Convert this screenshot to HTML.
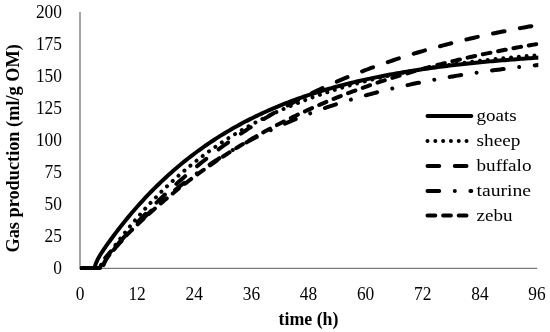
<!DOCTYPE html>
<html><head><meta charset="utf-8"><style>
html,body{margin:0;padding:0;background:#fff;}
body{width:550px;height:332px;overflow:hidden;}
svg{display:block;}
.t{font-family:"Liberation Serif",serif;font-size:17.4px;fill:#000;}
.l{font-family:"Liberation Serif",serif;font-size:17.2px;fill:#000;}
.b{font-family:"Liberation Serif",serif;font-size:18.5px;font-weight:bold;fill:#000;}
</style></head><body>
<svg width="550" height="332" viewBox="0 0 550 332">
<line x1="80" y1="12" x2="80" y2="269" stroke="#868686" stroke-width="1.5"/>
<line x1="79.25" y1="268.4" x2="537.2" y2="268.4" stroke="#7a7a7a" stroke-width="1.3"/>
<text transform="translate(62,273.8) scale(1,1.1)" text-anchor="end" class="t">0</text>
<text transform="translate(62,241.8) scale(1,1.1)" text-anchor="end" class="t">25</text>
<text transform="translate(62,209.8) scale(1,1.1)" text-anchor="end" class="t">50</text>
<text transform="translate(62,177.8) scale(1,1.1)" text-anchor="end" class="t">75</text>
<text transform="translate(62,145.8) scale(1,1.1)" text-anchor="end" class="t">100</text>
<text transform="translate(62,113.8) scale(1,1.1)" text-anchor="end" class="t">125</text>
<text transform="translate(62,81.8) scale(1,1.1)" text-anchor="end" class="t">150</text>
<text transform="translate(62,49.8) scale(1,1.1)" text-anchor="end" class="t">175</text>
<text transform="translate(62,17.8) scale(1,1.1)" text-anchor="end" class="t">200</text>
<text transform="translate(80.0,299.8) scale(1,1.1)" text-anchor="middle" class="t">0</text>
<text transform="translate(137.1,299.8) scale(1,1.1)" text-anchor="middle" class="t">12</text>
<text transform="translate(194.2,299.8) scale(1,1.1)" text-anchor="middle" class="t">24</text>
<text transform="translate(251.4,299.8) scale(1,1.1)" text-anchor="middle" class="t">36</text>
<text transform="translate(308.5,299.8) scale(1,1.1)" text-anchor="middle" class="t">48</text>
<text transform="translate(365.6,299.8) scale(1,1.1)" text-anchor="middle" class="t">60</text>
<text transform="translate(422.8,299.8) scale(1,1.1)" text-anchor="middle" class="t">72</text>
<text transform="translate(479.9,299.8) scale(1,1.1)" text-anchor="middle" class="t">84</text>
<text transform="translate(537.0,299.8) scale(1,1.1)" text-anchor="middle" class="t">96</text>
<defs><clipPath id="pa"><rect x="80" y="0" width="458.3" height="332"/></clipPath></defs><g clip-path="url(#pa)">
<path d="M80.00,268.00 L99.99,268.00 L100.47,266.57 L100.95,265.32 L101.42,264.20 L101.90,263.19 L102.37,262.28 L102.85,261.44 L103.33,260.66 L103.80,259.93 L104.28,259.23 L104.75,258.58 L105.23,257.94 L105.71,257.33 L106.18,256.74 L106.66,256.17 L107.13,255.60 L107.61,255.05 L108.09,254.50 L108.56,253.96 L109.04,253.43 L109.51,252.90 L109.99,252.37 L110.47,251.85 L110.94,251.33 L111.42,250.82 L111.89,250.31 L112.37,249.80 L112.85,249.29 L113.32,248.78 L113.80,248.28 L114.27,247.77 L114.75,247.27 L117.13,244.78 L119.51,242.32 L121.89,239.88 L124.27,237.47 L126.65,235.09 L129.03,232.73 L131.41,230.39 L133.79,228.08 L136.17,225.79 L138.55,223.52 L140.93,221.28 L143.31,219.06 L145.69,216.87 L148.07,214.69 L150.45,212.54 L152.83,210.41 L155.21,208.30 L157.59,206.22 L159.97,204.15 L162.36,202.11 L164.74,200.09 L167.12,198.09 L169.50,196.11 L171.88,194.15 L174.26,192.21 L176.64,190.29 L179.02,188.39 L181.40,186.50 L183.78,184.64 L186.16,182.80 L188.54,180.98 L190.92,179.17 L193.30,177.39 L195.68,175.62 L198.06,173.87 L200.44,172.14 L202.82,170.42 L205.20,168.73 L207.58,167.05 L209.96,165.39 L212.34,163.74 L214.72,162.11 L217.10,160.50 L219.48,158.91 L221.86,157.33 L224.24,155.77 L226.62,154.22 L229.00,152.69 L231.38,151.18 L233.76,149.68 L236.14,148.20 L238.52,146.73 L240.90,145.28 L243.28,143.84 L245.66,142.41 L248.04,141.01 L250.42,139.61 L252.80,138.23 L255.18,136.87 L257.56,135.52 L259.94,134.18 L262.32,132.85 L264.70,131.54 L267.08,130.25 L269.46,128.96 L271.84,127.69 L274.22,126.44 L276.61,125.19 L278.99,123.96 L281.37,122.74 L283.75,121.53 L286.13,120.34 L288.51,119.16 L290.89,117.99 L293.27,116.83 L295.65,115.69 L298.03,114.55 L300.41,113.43 L302.79,112.32 L305.17,111.22 L307.55,110.13 L309.93,109.06 L312.31,107.99 L314.69,106.94 L317.07,105.89 L319.45,104.86 L321.83,103.84 L324.21,102.82 L326.59,101.82 L328.97,100.83 L331.35,99.85 L333.73,98.88 L336.11,97.92 L338.49,96.97 L340.87,96.02 L343.25,95.09 L345.63,94.17 L348.01,93.26 L350.39,92.35 L352.77,91.46 L355.15,90.58 L357.53,89.70 L359.91,88.83 L362.29,87.98 L364.67,87.13 L367.05,86.29 L369.43,85.45 L371.81,84.63 L374.19,83.82 L376.57,83.01 L378.95,82.21 L381.33,81.42 L383.71,80.64 L386.09,79.87 L388.47,79.10 L390.86,78.34 L393.24,77.59 L395.62,76.85 L398.00,76.12 L400.38,75.39 L402.76,74.67 L405.14,73.96 L407.52,73.25 L409.90,72.55 L412.28,71.86 L414.66,71.18 L417.04,70.50 L419.42,69.83 L421.80,69.17 L424.18,68.52 L426.56,67.87 L428.94,67.22 L431.32,66.59 L433.70,65.96 L436.08,65.34 L438.46,64.72 L440.84,64.11 L443.22,63.51 L445.60,62.91 L447.98,62.32 L450.36,61.73 L452.74,61.15 L455.12,60.58 L457.50,60.01 L459.88,59.45 L462.26,58.89 L464.64,58.34 L467.02,57.80 L469.40,57.26 L471.78,56.73 L474.16,56.20 L476.54,55.68 L478.92,55.16 L481.30,54.65 L483.68,54.14 L486.06,53.64 L488.44,53.14 L490.82,52.65 L493.20,52.17 L495.58,51.69 L497.96,51.21 L500.34,50.74 L502.72,50.27 L505.11,49.81 L507.49,49.35 L509.87,48.90 L512.25,48.45 L514.63,48.01 L517.01,47.57 L519.39,47.14 L521.77,46.71 L524.15,46.28 L526.53,45.86 L528.91,45.45 L531.29,45.04 L533.67,44.63 L536.05,44.22 L538.43,43.82 L540.81,43.43 L543.19,43.04 L544.14,42.88" fill="none" stroke="#000" stroke-width="4.0" stroke-linecap="round" stroke-linejoin="round" stroke-dasharray="7.80,7.80" stroke-dashoffset="-0.10"/>
<path d="M80.00,268.00 L102.37,268.00 L102.85,266.52 L103.33,265.22 L103.80,264.05 L104.28,262.99 L104.75,262.03 L105.23,261.14 L105.71,260.31 L106.18,259.53 L106.66,258.79 L107.13,258.08 L107.61,257.40 L108.09,256.75 L108.56,256.11 L109.04,255.49 L109.51,254.88 L109.99,254.28 L110.47,253.69 L110.94,253.10 L111.42,252.53 L111.89,251.95 L112.37,251.39 L112.85,250.82 L113.32,250.27 L113.80,249.71 L114.27,249.16 L114.75,248.61 L115.23,248.06 L115.70,247.51 L116.18,246.97 L116.66,246.43 L117.13,245.89 L119.51,243.21 L121.89,240.57 L124.27,237.97 L126.65,235.41 L129.03,232.88 L131.41,230.38 L133.79,227.92 L136.17,225.49 L138.55,223.10 L140.93,220.73 L143.31,218.40 L145.69,216.10 L148.07,213.82 L150.45,211.58 L152.83,209.37 L155.21,207.19 L157.59,205.04 L159.97,202.92 L162.36,200.82 L164.74,198.76 L167.12,196.72 L169.50,194.71 L171.88,192.72 L174.26,190.77 L176.64,188.84 L179.02,186.93 L181.40,185.05 L183.78,183.20 L186.16,181.37 L188.54,179.56 L190.92,177.78 L193.30,176.02 L195.68,174.29 L198.06,172.58 L200.44,170.89 L202.82,169.23 L205.20,167.58 L207.58,165.96 L209.96,164.36 L212.34,162.79 L214.72,161.23 L217.10,159.70 L219.48,158.18 L221.86,156.69 L224.24,155.21 L226.62,153.76 L229.00,152.32 L231.38,150.91 L233.76,149.51 L236.14,148.13 L238.52,146.77 L240.90,145.43 L243.28,144.11 L245.66,142.80 L248.04,141.51 L250.42,140.24 L252.80,138.99 L255.18,137.75 L257.56,136.53 L259.94,135.33 L262.32,134.14 L264.70,132.97 L267.08,131.81 L269.46,130.67 L271.84,129.55 L274.22,128.44 L276.61,127.34 L278.99,126.26 L281.37,125.19 L283.75,124.14 L286.13,123.10 L288.51,122.08 L290.89,121.07 L293.27,120.07 L295.65,119.09 L298.03,118.12 L300.41,117.16 L302.79,116.22 L305.17,115.29 L307.55,114.37 L309.93,113.46 L312.31,112.56 L314.69,111.68 L317.07,110.81 L319.45,109.95 L321.83,109.10 L324.21,108.27 L326.59,107.44 L328.97,106.63 L331.35,105.83 L333.73,105.03 L336.11,104.25 L338.49,103.48 L340.87,102.72 L343.25,101.97 L345.63,101.23 L348.01,100.50 L350.39,99.78 L352.77,99.07 L355.15,98.36 L357.53,97.67 L359.91,96.99 L362.29,96.32 L364.67,95.65 L367.05,94.99 L369.43,94.35 L371.81,93.71 L374.19,93.08 L376.57,92.46 L378.95,91.84 L381.33,91.24 L383.71,90.64 L386.09,90.05 L388.47,89.47 L390.86,88.90 L393.24,88.34 L395.62,87.78 L398.00,87.23 L400.38,86.68 L402.76,86.15 L405.14,85.62 L407.52,85.10 L409.90,84.58 L412.28,84.08 L414.66,83.58 L417.04,83.08 L419.42,82.59 L421.80,82.11 L424.18,81.64 L426.56,81.17 L428.94,80.71 L431.32,80.25 L433.70,79.81 L436.08,79.36 L438.46,78.92 L440.84,78.49 L443.22,78.07 L445.60,77.65 L447.98,77.23 L450.36,76.82 L452.74,76.42 L455.12,76.02 L457.50,75.63 L459.88,75.24 L462.26,74.86 L464.64,74.48 L467.02,74.11 L469.40,73.74 L471.78,73.38 L474.16,73.02 L476.54,72.67 L478.92,72.32 L481.30,71.98 L483.68,71.64 L486.06,71.31 L488.44,70.98 L490.82,70.65 L493.20,70.33 L495.58,70.02 L497.96,69.70 L500.34,69.40 L502.72,69.09 L505.11,68.79 L507.49,68.50 L509.87,68.21 L512.25,67.92 L514.63,67.63 L517.01,67.35 L519.39,67.08 L521.77,66.80 L524.15,66.54 L526.53,66.27 L528.91,66.01 L531.29,65.75 L533.67,65.50 L536.05,65.24 L538.43,65.00 L540.81,64.75 L543.19,64.51 L544.14,64.41" fill="none" stroke="#000" stroke-width="4.0" stroke-linecap="round" stroke-linejoin="round" stroke-dasharray="11.70,15.60,0.01,15.60" stroke-dashoffset="-1.05"/>
<path d="M80.00,268.00 L102.37,268.00 L102.85,266.51 L103.33,265.18 L103.80,263.99 L104.28,262.92 L104.75,261.94 L105.23,261.03 L105.71,260.18 L106.18,259.38 L106.66,258.62 L107.13,257.90 L107.61,257.20 L108.09,256.52 L108.56,255.86 L109.04,255.22 L109.51,254.59 L109.99,253.97 L110.47,253.36 L110.94,252.75 L111.42,252.15 L111.89,251.56 L112.37,250.97 L112.85,250.39 L113.32,249.80 L113.80,249.22 L114.27,248.65 L114.75,248.07 L115.23,247.50 L115.70,246.93 L116.18,246.36 L116.66,245.80 L117.13,245.23 L119.51,242.43 L121.89,239.66 L124.27,236.93 L126.65,234.22 L129.03,231.54 L131.41,228.90 L133.79,226.28 L136.17,223.68 L138.55,221.12 L140.93,218.59 L143.31,216.08 L145.69,213.60 L148.07,211.15 L150.45,208.72 L152.83,206.32 L155.21,203.94 L157.59,201.60 L159.97,199.27 L162.36,196.98 L164.74,194.70 L167.12,192.45 L169.50,190.23 L171.88,188.03 L174.26,185.86 L176.64,183.70 L179.02,181.57 L181.40,179.47 L183.78,177.39 L186.16,175.33 L188.54,173.29 L190.92,171.27 L193.30,169.28 L195.68,167.31 L198.06,165.35 L200.44,163.43 L202.82,161.52 L205.20,159.63 L207.58,157.76 L209.96,155.91 L212.34,154.09 L214.72,152.28 L217.10,150.49 L219.48,148.72 L221.86,146.97 L224.24,145.24 L226.62,143.53 L229.00,141.84 L231.38,140.17 L233.76,138.51 L236.14,136.87 L238.52,135.25 L240.90,133.65 L243.28,132.06 L245.66,130.50 L248.04,128.94 L250.42,127.41 L252.80,125.89 L255.18,124.39 L257.56,122.91 L259.94,121.44 L262.32,119.98 L264.70,118.55 L267.08,117.13 L269.46,115.72 L271.84,114.33 L274.22,112.95 L276.61,111.59 L278.99,110.25 L281.37,108.91 L283.75,107.60 L286.13,106.30 L288.51,105.01 L290.89,103.73 L293.27,102.47 L295.65,101.22 L298.03,99.99 L300.41,98.77 L302.79,97.56 L305.17,96.37 L307.55,95.19 L309.93,94.02 L312.31,92.87 L314.69,91.72 L317.07,90.59 L319.45,89.48 L321.83,88.37 L324.21,87.28 L326.59,86.19 L328.97,85.12 L331.35,84.07 L333.73,83.02 L336.11,81.98 L338.49,80.96 L340.87,79.94 L343.25,78.94 L345.63,77.95 L348.01,76.97 L350.39,76.00 L352.77,75.04 L355.15,74.09 L357.53,73.15 L359.91,72.22 L362.29,71.30 L364.67,70.40 L367.05,69.50 L369.43,68.61 L371.81,67.73 L374.19,66.86 L376.57,66.00 L378.95,65.15 L381.33,64.31 L383.71,63.47 L386.09,62.65 L388.47,61.83 L390.86,61.03 L393.24,60.23 L395.62,59.44 L398.00,58.66 L400.38,57.89 L402.76,57.13 L405.14,56.37 L407.52,55.63 L409.90,54.89 L412.28,54.16 L414.66,53.44 L417.04,52.72 L419.42,52.01 L421.80,51.32 L424.18,50.62 L426.56,49.94 L428.94,49.26 L431.32,48.59 L433.70,47.93 L436.08,47.28 L438.46,46.63 L440.84,45.99 L443.22,45.35 L445.60,44.73 L447.98,44.11 L450.36,43.49 L452.74,42.89 L455.12,42.29 L457.50,41.69 L459.88,41.11 L462.26,40.53 L464.64,39.95 L467.02,39.38 L469.40,38.82 L471.78,38.26 L474.16,37.71 L476.54,37.17 L478.92,36.63 L481.30,36.10 L483.68,35.57 L486.06,35.05 L488.44,34.54 L490.82,34.03 L493.20,33.52 L495.58,33.03 L497.96,32.53 L500.34,32.05 L502.72,31.56 L505.11,31.09 L507.49,30.61 L509.87,30.15 L512.25,29.68 L514.63,29.23 L517.01,28.78 L519.39,28.33 L521.77,27.89 L524.15,27.45 L526.53,27.02 L528.91,26.59 L531.29,26.17 L533.67,25.75 L536.05,25.33 L538.43,24.92 L540.81,24.52 L543.19,24.12 L544.14,23.96" fill="none" stroke="#000" stroke-width="4.0" stroke-linecap="round" stroke-linejoin="round" stroke-dasharray="11.70,15.60" stroke-dashoffset="1.47"/>
<path d="M80.00,268.00 L102.47,268.00 L102.95,266.41 L103.42,264.99 L103.90,263.71 L104.37,262.54 L104.85,261.46 L105.33,260.46 L105.80,259.52 L106.28,258.64 L106.75,257.79 L107.23,256.97 L107.71,256.19 L108.18,255.43 L108.66,254.68 L109.13,253.95 L109.61,253.24 L110.09,252.53 L110.56,251.84 L111.04,251.15 L111.51,250.47 L111.99,249.80 L112.47,249.13 L112.94,248.47 L113.42,247.81 L113.89,247.15 L114.37,246.50 L114.85,245.85 L115.32,245.21 L115.80,244.56 L116.27,243.92 L116.75,243.28 L117.23,242.65 L119.61,239.50 L121.99,236.41 L124.37,233.37 L126.75,230.37 L129.13,227.42 L131.51,224.52 L133.89,221.67 L136.27,218.86 L138.65,216.09 L141.03,213.37 L143.41,210.69 L145.79,208.05 L148.17,205.45 L150.55,202.90 L152.93,200.38 L155.31,197.91 L157.69,195.47 L160.07,193.07 L162.45,190.71 L164.83,188.39 L167.21,186.10 L169.59,183.85 L171.97,181.64 L174.35,179.46 L176.73,177.31 L179.11,175.20 L181.49,173.12 L183.87,171.07 L186.25,169.06 L188.63,167.07 L191.01,165.12 L193.39,163.20 L195.77,161.31 L198.15,159.45 L200.53,157.62 L202.91,155.82 L205.29,154.04 L207.67,152.30 L210.05,150.58 L212.43,148.89 L214.81,147.22 L217.20,145.58 L219.58,143.97 L221.96,142.38 L224.34,140.82 L226.72,139.28 L229.10,137.76 L231.48,136.27 L233.86,134.81 L236.24,133.36 L238.62,131.94 L241.00,130.54 L243.38,129.17 L245.76,127.81 L248.14,126.48 L250.52,125.17 L252.90,123.87 L255.28,122.60 L257.66,121.35 L260.04,120.12 L262.42,118.91 L264.80,117.71 L267.18,116.54 L269.56,115.38 L271.94,114.24 L274.32,113.12 L276.70,112.02 L279.08,110.94 L281.46,109.87 L283.84,108.82 L286.22,107.78 L288.60,106.76 L290.98,105.76 L293.36,104.77 L295.74,103.80 L298.12,102.85 L300.50,101.91 L302.88,100.98 L305.26,100.07 L307.64,99.17 L310.02,98.29 L312.40,97.42 L314.78,96.56 L317.16,95.72 L319.54,94.89 L321.92,94.08 L324.30,93.27 L326.68,92.48 L329.06,91.71 L331.45,90.94 L333.83,90.19 L336.21,89.45 L338.59,88.72 L340.97,88.00 L343.35,87.29 L345.73,86.59 L348.11,85.91 L350.49,85.23 L352.87,84.57 L355.25,83.92 L357.63,83.27 L360.01,82.64 L362.39,82.02 L364.77,81.41 L367.15,80.80 L369.53,80.21 L371.91,79.62 L374.29,79.05 L376.67,78.48 L379.05,77.92 L381.43,77.38 L383.81,76.84 L386.19,76.30 L388.57,75.78 L390.95,75.27 L393.33,74.76 L395.71,74.26 L398.09,73.77 L400.47,73.29 L402.85,72.81 L405.23,72.34 L407.61,71.88 L409.99,71.43 L412.37,70.98 L414.75,70.54 L417.13,70.11 L419.51,69.68 L421.89,69.26 L424.27,68.85 L426.65,68.45 L429.03,68.05 L431.41,67.65 L433.79,67.27 L436.17,66.88 L438.55,66.51 L440.93,66.14 L443.31,65.78 L445.70,65.42 L448.08,65.07 L450.46,64.72 L452.84,64.38 L455.22,64.04 L457.60,63.71 L459.98,63.39 L462.36,63.07 L464.74,62.75 L467.12,62.44 L469.50,62.14 L471.88,61.84 L474.26,61.54 L476.64,61.25 L479.02,60.97 L481.40,60.68 L483.78,60.41 L486.16,60.13 L488.54,59.86 L490.92,59.60 L493.30,59.34 L495.68,59.08 L498.06,58.83 L500.44,58.58 L502.82,58.34 L505.20,58.10 L507.58,57.86 L509.96,57.63 L512.34,57.40 L514.72,57.17 L517.10,56.95 L519.48,56.73 L521.86,56.52 L524.24,56.31 L526.62,56.10 L529.00,55.89 L531.38,55.69 L533.76,55.49 L536.14,55.30 L538.52,55.10 L540.90,54.91 L543.28,54.73 L544.14,54.66" fill="none" stroke="#000" stroke-width="4.0" stroke-linecap="round" stroke-linejoin="round" stroke-dasharray="0.01,7.80" stroke-dashoffset="5.50"/>
<path d="M80.00,268.00 L94.45,268.00 L94.93,266.37 L95.40,264.91 L95.88,263.59 L96.36,262.38 L96.83,261.27 L97.31,260.24 L97.78,259.26 L98.26,258.34 L98.74,257.46 L99.21,256.62 L99.69,255.80 L100.17,255.01 L100.64,254.24 L101.12,253.48 L101.59,252.73 L102.07,252.00 L102.55,251.28 L103.02,250.57 L103.50,249.86 L103.97,249.16 L104.45,248.46 L104.93,247.77 L105.40,247.09 L105.88,246.41 L106.35,245.73 L106.83,245.05 L107.31,244.38 L107.78,243.71 L108.26,243.05 L108.73,242.39 L109.21,241.73 L111.59,238.46 L113.97,235.26 L116.35,232.11 L118.73,229.01 L121.11,225.97 L123.49,222.98 L125.87,220.03 L128.25,217.14 L130.63,214.30 L133.01,211.50 L135.39,208.75 L137.77,206.05 L140.15,203.40 L142.53,200.79 L144.91,198.22 L147.29,195.69 L149.67,193.21 L152.05,190.77 L154.43,188.38 L156.81,186.02 L159.19,183.70 L161.57,181.42 L163.95,179.18 L166.33,176.98 L168.72,174.81 L171.10,172.68 L173.48,170.59 L175.86,168.53 L178.24,166.51 L180.62,164.52 L183.00,162.57 L185.38,160.64 L187.76,158.75 L190.14,156.90 L192.52,155.07 L194.90,153.27 L197.28,151.51 L199.66,149.77 L202.04,148.07 L204.42,146.39 L206.80,144.74 L209.18,143.12 L211.56,141.53 L213.94,139.96 L216.32,138.42 L218.70,136.90 L221.08,135.42 L223.46,133.95 L225.84,132.51 L228.22,131.10 L230.60,129.71 L232.98,128.34 L235.36,127.00 L237.74,125.67 L240.12,124.37 L242.50,123.10 L244.88,121.84 L247.26,120.61 L249.64,119.39 L252.02,118.20 L254.40,117.03 L256.78,115.87 L259.16,114.74 L261.54,113.62 L263.92,112.53 L266.30,111.45 L268.68,110.39 L271.06,109.35 L273.44,108.33 L275.82,107.32 L278.20,106.33 L280.58,105.36 L282.97,104.40 L285.35,103.46 L287.73,102.54 L290.11,101.63 L292.49,100.74 L294.87,99.86 L297.25,98.99 L299.63,98.14 L302.01,97.31 L304.39,96.49 L306.77,95.68 L309.15,94.89 L311.53,94.11 L313.91,93.34 L316.29,92.59 L318.67,91.85 L321.05,91.12 L323.43,90.40 L325.81,89.70 L328.19,89.01 L330.57,88.33 L332.95,87.66 L335.33,87.00 L337.71,86.36 L340.09,85.72 L342.47,85.09 L344.85,84.48 L347.23,83.88 L349.61,83.28 L351.99,82.70 L354.37,82.13 L356.75,81.56 L359.13,81.01 L361.51,80.46 L363.89,79.92 L366.27,79.40 L368.65,78.88 L371.03,78.37 L373.41,77.87 L375.79,77.38 L378.17,76.89 L380.55,76.42 L382.93,75.95 L385.31,75.49 L387.69,75.04 L390.07,74.59 L392.45,74.16 L394.83,73.73 L397.22,73.30 L399.60,72.89 L401.98,72.48 L404.36,72.08 L406.74,71.68 L409.12,71.30 L411.50,70.92 L413.88,70.54 L416.26,70.17 L418.64,69.81 L421.02,69.45 L423.40,69.10 L425.78,68.76 L428.16,68.42 L430.54,68.09 L432.92,67.76 L435.30,67.44 L437.68,67.12 L440.06,66.81 L442.44,66.51 L444.82,66.20 L447.20,65.91 L449.58,65.62 L451.96,65.33 L454.34,65.05 L456.72,64.78 L459.10,64.51 L461.48,64.24 L463.86,63.98 L466.24,63.72 L468.62,63.47 L471.00,63.22 L473.38,62.97 L475.76,62.73 L478.14,62.49 L480.52,62.26 L482.90,62.03 L485.28,61.81 L487.66,61.59 L490.04,61.37 L492.42,61.15 L494.80,60.94 L497.18,60.74 L499.56,60.53 L501.94,60.33 L504.32,60.14 L506.70,59.95 L509.08,59.76 L511.47,59.57 L513.85,59.39 L516.23,59.21 L518.61,59.03 L520.99,58.85 L523.37,58.68 L525.75,58.51 L528.13,58.35 L530.51,58.19 L532.89,58.03 L535.27,57.87 L537.65,57.71 L540.03,57.56 L542.41,57.41 L544.14,57.30" fill="none" stroke="#000" stroke-width="4.0" stroke-linecap="round" stroke-linejoin="round"/>
</g>
<line x1="427.5" y1="116.0" x2="471.3" y2="116.0" stroke="#000" stroke-width="4.0" stroke-linecap="round"/>
<text x="476.5" y="121.2" class="l" textLength="40.1" lengthAdjust="spacingAndGlyphs">goats</text>
<line x1="427.5" y1="140.9" x2="471.3" y2="140.9" stroke="#000" stroke-width="4.0" stroke-linecap="round" stroke-dasharray="0.01,7.80"/>
<text x="476.5" y="146.1" class="l" textLength="44.0" lengthAdjust="spacingAndGlyphs">sheep</text>
<line x1="427.5" y1="166.0" x2="471.3" y2="166.0" stroke="#000" stroke-width="4.0" stroke-linecap="round" stroke-dasharray="11.70,15.60"/>
<text x="476.5" y="171.2" class="l" textLength="55.0" lengthAdjust="spacingAndGlyphs">buffalo</text>
<line x1="427.5" y1="190.9" x2="471.3" y2="190.9" stroke="#000" stroke-width="4.0" stroke-linecap="round" stroke-dasharray="11.70,15.60,0.01,15.60"/>
<text x="476.5" y="196.1" class="l" textLength="54.6" lengthAdjust="spacingAndGlyphs">taurine</text>
<line x1="427.5" y1="215.6" x2="471.3" y2="215.6" stroke="#000" stroke-width="4.0" stroke-linecap="round" stroke-dasharray="7.80,7.80"/>
<text x="476.5" y="220.8" class="l" textLength="36.0" lengthAdjust="spacingAndGlyphs">zebu</text>
<text x="278.5" y="324.5" class="b" textLength="60" lengthAdjust="spacingAndGlyphs">time (h)</text>
<text transform="translate(18.5,252.6) rotate(-90)" x="0" y="0" class="b" textLength="208.5" lengthAdjust="spacingAndGlyphs">Gas production (ml/g OM)</text>
</svg>
</body></html>
